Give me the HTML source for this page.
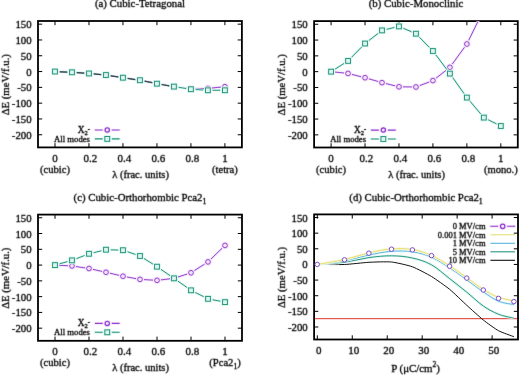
<!DOCTYPE html>
<html><head><meta charset="utf-8"><style>
html,body{margin:0;padding:0;background:#fff;}
svg{display:block;}
text{font-family:"Liberation Serif", "DejaVu Serif", serif;fill:#000;stroke:#000;stroke-width:0.3px;}
</style></head><body>
<svg width="520" height="375" viewBox="0 0 520 375">
<rect width="520" height="375" fill="#fff"/>
<defs>
<filter id="soft" color-interpolation-filters="sRGB" filterUnits="userSpaceOnUse" x="0" y="0" width="520" height="375"><feConvolveMatrix order="3" kernelMatrix="0 1 0 1 6 1 0 1 0" divisor="10" edgeMode="duplicate" preserveAlpha="false"/></filter>
<clipPath id="clipa"><rect x="38.0" y="21.0" width="203.90" height="126.40"/></clipPath>
<clipPath id="clipb"><rect x="314.1" y="21.1" width="203.70" height="126.40"/></clipPath>
<clipPath id="clipc"><rect x="38.0" y="214.6" width="204.00" height="126.20"/></clipPath>
<clipPath id="clipd"><rect x="314.1" y="214.4" width="203.90" height="125.10"/></clipPath>
</defs>
<rect x="38.00" y="21.00" width="203.90" height="126.40" fill="none" stroke="#000" stroke-width="1.8"/>
<path d="M54.99 147.40V143.20M54.99 21.00V25.20M88.98 147.40V143.20M88.98 21.00V25.20M122.96 147.40V143.20M122.96 21.00V25.20M156.94 147.40V143.20M156.94 21.00V25.20M190.93 147.40V143.20M190.93 21.00V25.20M224.91 147.40V143.20M224.91 21.00V25.20M38.00 24.16H42.20M241.90 24.16H237.70M38.00 39.96H42.20M241.90 39.96H237.70M38.00 55.76H42.20M241.90 55.76H237.70M38.00 71.56H42.20M241.90 71.56H237.70M38.00 87.36H42.20M241.90 87.36H237.70M38.00 103.16H42.20M241.90 103.16H237.70M38.00 118.96H42.20M241.90 118.96H237.70M38.00 134.76H42.20M241.90 134.76H237.70" stroke="#000" stroke-width="1" fill="none"/>
<rect x="314.10" y="21.10" width="203.70" height="126.40" fill="none" stroke="#000" stroke-width="1.8"/>
<path d="M331.08 147.50V143.30M331.08 21.10V25.30M365.03 147.50V143.30M365.03 21.10V25.30M398.98 147.50V143.30M398.98 21.10V25.30M432.93 147.50V143.30M432.93 21.10V25.30M466.88 147.50V143.30M466.88 21.10V25.30M500.82 147.50V143.30M500.82 21.10V25.30M314.10 24.26H318.30M517.80 24.26H513.60M314.10 40.06H318.30M517.80 40.06H513.60M314.10 55.86H318.30M517.80 55.86H513.60M314.10 71.66H318.30M517.80 71.66H513.60M314.10 87.46H318.30M517.80 87.46H513.60M314.10 103.26H318.30M517.80 103.26H513.60M314.10 119.06H318.30M517.80 119.06H513.60M314.10 134.86H318.30M517.80 134.86H513.60" stroke="#000" stroke-width="1" fill="none"/>
<rect x="38.00" y="214.60" width="204.00" height="126.20" fill="none" stroke="#000" stroke-width="1.8"/>
<path d="M55.00 340.80V336.60M55.00 214.60V218.80M89.00 340.80V336.60M89.00 214.60V218.80M123.00 340.80V336.60M123.00 214.60V218.80M157.00 340.80V336.60M157.00 214.60V218.80M191.00 340.80V336.60M191.00 214.60V218.80M225.00 340.80V336.60M225.00 214.60V218.80M38.00 217.75H42.20M242.00 217.75H237.80M38.00 233.53H42.20M242.00 233.53H237.80M38.00 249.31H42.20M242.00 249.31H237.80M38.00 265.08H42.20M242.00 265.08H237.80M38.00 280.86H42.20M242.00 280.86H237.80M38.00 296.63H42.20M242.00 296.63H237.80M38.00 312.41H42.20M242.00 312.41H237.80M38.00 328.18H42.20M242.00 328.18H237.80" stroke="#000" stroke-width="1" fill="none"/>
<rect x="314.10" y="214.40" width="203.90" height="125.10" fill="none" stroke="#000" stroke-width="1.8"/>
<path d="M317.30 339.50V335.30M317.30 214.40V218.60M352.26 339.50V335.30M352.26 214.40V218.60M387.22 339.50V335.30M387.22 214.40V218.60M422.18 339.50V335.30M422.18 214.40V218.60M457.14 339.50V335.30M457.14 214.40V218.60M492.10 339.50V335.30M492.10 214.40V218.60M314.10 217.53H318.30M518.00 217.53H513.80M314.10 233.16H318.30M518.00 233.16H513.80M314.10 248.80H318.30M518.00 248.80H513.80M314.10 264.44H318.30M518.00 264.44H513.80M314.10 280.08H318.30M518.00 280.08H513.80M314.10 295.72H318.30M518.00 295.72H513.80M314.10 311.35H318.30M518.00 311.35H513.80M314.10 326.99H318.30M518.00 326.99H513.80" stroke="#000" stroke-width="1" fill="none"/>
<path d="M58.99 71.73L67.99 72.12M75.97 72.56L84.98 73.18M92.96 73.83L101.98 74.67M109.92 75.66L119.01 77.10M126.92 78.30L135.99 79.64M143.87 81.02L153.02 82.89M160.88 84.37L169.99 85.93M177.90 87.12L186.96 88.30M194.92 88.72L203.92 88.50M211.90 88.00L220.93 87.07" stroke="#f1e2fa" stroke-width="2.6" fill="none" stroke-linecap="round" clip-path="url(#clipa)"/>
<path d="M58.99 71.73L67.99 72.12M75.97 72.56L84.98 73.18M92.96 73.83L101.98 74.67M109.92 75.66L119.01 77.10M126.92 78.30L135.99 79.64M143.87 81.02L153.02 82.89M160.88 84.37L169.99 85.93M177.90 87.12L186.96 88.30M194.92 88.72L203.92 88.50M211.90 88.00L220.93 87.07" stroke="#9848d0" stroke-width="1.0" fill="none" clip-path="url(#clipa)"/>
<g fill="#f1e2fa" stroke="none" clip-path="url(#clipa)"><circle cx="54.99" cy="71.56" r="3.75"/><circle cx="71.98" cy="72.29" r="3.75"/><circle cx="88.98" cy="73.46" r="3.75"/><circle cx="105.97" cy="75.04" r="3.75"/><circle cx="122.96" cy="77.72" r="3.75"/><circle cx="139.95" cy="80.22" r="3.75"/><circle cx="156.94" cy="83.69" r="3.75"/><circle cx="173.93" cy="86.60" r="3.75"/><circle cx="190.93" cy="88.81" r="3.75"/><circle cx="207.92" cy="88.40" r="3.75"/><circle cx="224.91" cy="86.66" r="3.75"/></g>
<g fill="none" stroke="#9848d0" stroke-width="1.0" clip-path="url(#clipa)"><circle cx="54.99" cy="71.56" r="2.35"/><circle cx="71.98" cy="72.29" r="2.35"/><circle cx="88.98" cy="73.46" r="2.35"/><circle cx="105.97" cy="75.04" r="2.35"/><circle cx="122.96" cy="77.72" r="2.35"/><circle cx="139.95" cy="80.22" r="2.35"/><circle cx="156.94" cy="83.69" r="2.35"/><circle cx="173.93" cy="86.60" r="2.35"/><circle cx="190.93" cy="88.81" r="2.35"/><circle cx="207.92" cy="88.40" r="2.35"/><circle cx="224.91" cy="86.66" r="2.35"/></g>
<path d="M59.79 71.77L67.19 72.08M76.77 72.62L84.19 73.13M93.75 73.90L101.19 74.59M110.71 75.79L118.22 76.97M127.71 78.42L135.20 79.52M144.65 81.18L152.24 82.73M161.67 84.50L169.20 85.79M178.68 87.33L186.18 88.49M195.72 89.52L203.13 89.97M212.72 90.27L220.11 90.27" stroke="#dcf5ee" stroke-width="2.6" fill="none" stroke-linecap="round" clip-path="url(#clipa)"/>
<path d="M59.79 71.77L67.19 72.08M76.77 72.62L84.19 73.13M93.75 73.90L101.19 74.59M110.71 75.79L118.22 76.97M127.71 78.42L135.20 79.52M144.65 81.18L152.24 82.73M161.67 84.50L169.20 85.79M178.68 87.33L186.18 88.49M195.72 89.52L203.13 89.97M212.72 90.27L220.11 90.27" stroke="#2a9680" stroke-width="1.0" fill="none" clip-path="url(#clipa)"/>
<path d="M59.79 71.77L67.19 72.08M76.77 72.62L84.19 73.13M93.75 73.90L101.19 74.59M110.71 75.79L118.22 76.97M127.71 78.42L135.20 79.52M144.65 81.18L152.24 82.73M161.67 84.50L169.20 85.79" stroke="#4a4258" stroke-width="1.25" fill="none"/>
<g fill="#dcf5ee" stroke="none" clip-path="url(#clipa)"><rect x="51.19" y="67.76" width="7.60" height="7.60" rx="1"/><rect x="68.18" y="68.49" width="7.60" height="7.60" rx="1"/><rect x="85.18" y="69.66" width="7.60" height="7.60" rx="1"/><rect x="102.17" y="71.24" width="7.60" height="7.60" rx="1"/><rect x="119.16" y="73.92" width="7.60" height="7.60" rx="1"/><rect x="136.15" y="76.42" width="7.60" height="7.60" rx="1"/><rect x="153.14" y="79.89" width="7.60" height="7.60" rx="1"/><rect x="170.13" y="82.80" width="7.60" height="7.60" rx="1"/><rect x="187.12" y="85.42" width="7.60" height="7.60" rx="1"/><rect x="204.12" y="86.47" width="7.60" height="7.60" rx="1"/><rect x="221.11" y="86.47" width="7.60" height="7.60" rx="1"/></g>
<g fill="none" stroke="#2a9680" stroke-width="1.0" clip-path="url(#clipa)"><rect x="52.59" y="69.16" width="4.80" height="4.80"/><rect x="69.58" y="69.89" width="4.80" height="4.80"/><rect x="86.58" y="71.06" width="4.80" height="4.80"/><rect x="103.57" y="72.64" width="4.80" height="4.80"/><rect x="120.56" y="75.32" width="4.80" height="4.80"/><rect x="137.55" y="77.82" width="4.80" height="4.80"/><rect x="154.54" y="81.29" width="4.80" height="4.80"/><rect x="171.53" y="84.20" width="4.80" height="4.80"/><rect x="188.53" y="86.82" width="4.80" height="4.80"/><rect x="205.52" y="87.87" width="4.80" height="4.80"/><rect x="222.51" y="87.87" width="4.80" height="4.80"/></g>
<path d="M95.00 130.00H102.65M111.85 130.00H119.50" stroke="#f1e2fa" stroke-width="2.7" stroke-linecap="round"/>
<path d="M95.00 130.00H102.65M111.85 130.00H119.50" stroke="#9848d0" stroke-width="1.1"/>
<g fill="#f1e2fa" stroke="none"><circle cx="107.25" cy="130.00" r="3.65"/></g>
<g fill="none" stroke="#9848d0" stroke-width="1.3"><circle cx="107.25" cy="130.00" r="2.1"/></g>
<path d="M95.00 138.90H102.65M111.85 138.90H119.50" stroke="#dcf5ee" stroke-width="2.7" stroke-linecap="round"/>
<path d="M95.00 138.90H102.65M111.85 138.90H119.50" stroke="#2a9680" stroke-width="1.1"/>
<g fill="#dcf5ee" stroke="none"><rect x="103.45" y="135.10" width="7.60" height="7.60" rx="1"/></g>
<g fill="none" stroke="#2a9680" stroke-width="1.0"><rect x="104.85" y="136.50" width="4.80" height="4.80"/></g>
<path d="M335.05 72.07L344.07 73.01M351.93 74.41L361.15 76.75M368.87 78.84L378.16 81.54M385.89 83.60L395.09 85.85M402.97 86.84L411.95 86.94M419.69 85.58L429.18 82.01M436.08 78.14L446.75 69.79M452.25 64.10L464.52 47.24M468.64 40.42L482.09 13.00M485.35 5.70L499.33 -28.91" stroke="#f1e2fa" stroke-width="2.6" fill="none" stroke-linecap="round" clip-path="url(#clipb)"/>
<path d="M335.05 72.07L344.07 73.01M351.93 74.41L361.15 76.75M368.87 78.84L378.16 81.54M385.89 83.60L395.09 85.85M402.97 86.84L411.95 86.94M419.69 85.58L429.18 82.01M436.08 78.14L446.75 69.79M452.25 64.10L464.52 47.24M468.64 40.42L482.09 13.00M485.35 5.70L499.33 -28.91" stroke="#9848d0" stroke-width="1.0" fill="none" clip-path="url(#clipb)"/>
<g fill="#f1e2fa" stroke="none" clip-path="url(#clipb)"><circle cx="331.08" cy="71.66" r="3.75"/><circle cx="348.05" cy="73.43" r="3.75"/><circle cx="365.03" cy="77.73" r="3.75"/><circle cx="382.00" cy="82.66" r="3.75"/><circle cx="398.98" cy="86.80" r="3.75"/><circle cx="415.95" cy="86.99" r="3.75"/><circle cx="432.93" cy="80.60" r="3.75"/><circle cx="449.90" cy="67.33" r="3.75"/><circle cx="466.88" cy="44.01" r="3.75"/><circle cx="483.85" cy="9.41" r="3.75"/><circle cx="500.82" cy="-32.62" r="3.75"/></g>
<g fill="none" stroke="#9848d0" stroke-width="1.0" clip-path="url(#clipb)"><circle cx="331.08" cy="71.66" r="2.35"/><circle cx="348.05" cy="73.43" r="2.35"/><circle cx="365.03" cy="77.73" r="2.35"/><circle cx="382.00" cy="82.66" r="2.35"/><circle cx="398.98" cy="86.80" r="2.35"/><circle cx="415.95" cy="86.99" r="2.35"/><circle cx="432.93" cy="80.60" r="2.35"/><circle cx="449.90" cy="67.33" r="2.35"/><circle cx="466.88" cy="44.01" r="2.35"/><circle cx="483.85" cy="9.41" r="2.35"/><circle cx="500.82" cy="-32.62" r="2.35"/></g>
<path d="M335.13 69.09L343.99 63.48M351.40 57.48L361.67 46.97M368.82 40.60L378.20 33.33M386.67 29.29L394.30 27.50M403.38 28.31L411.54 31.81M419.31 37.13L429.56 47.57M435.81 54.83L447.02 69.75M452.67 77.51L464.10 93.65M469.98 101.23L480.75 113.94M488.15 119.74L496.52 123.88" stroke="#dcf5ee" stroke-width="2.6" fill="none" stroke-linecap="round" clip-path="url(#clipb)"/>
<path d="M335.13 69.09L343.99 63.48M351.40 57.48L361.67 46.97M368.82 40.60L378.20 33.33M386.67 29.29L394.30 27.50M403.38 28.31L411.54 31.81M419.31 37.13L429.56 47.57M435.81 54.83L447.02 69.75M452.67 77.51L464.10 93.65M469.98 101.23L480.75 113.94M488.15 119.74L496.52 123.88" stroke="#2a9680" stroke-width="1.0" fill="none" clip-path="url(#clipb)"/>
<g fill="#dcf5ee" stroke="none" clip-path="url(#clipb)"><rect x="327.28" y="67.86" width="7.60" height="7.60" rx="1"/><rect x="344.25" y="57.12" width="7.60" height="7.60" rx="1"/><rect x="361.23" y="39.74" width="7.60" height="7.60" rx="1"/><rect x="378.20" y="26.59" width="7.60" height="7.60" rx="1"/><rect x="395.18" y="22.61" width="7.60" height="7.60" rx="1"/><rect x="412.15" y="29.91" width="7.60" height="7.60" rx="1"/><rect x="429.12" y="47.19" width="7.60" height="7.60" rx="1"/><rect x="446.10" y="69.79" width="7.60" height="7.60" rx="1"/><rect x="463.07" y="93.77" width="7.60" height="7.60" rx="1"/><rect x="480.05" y="113.81" width="7.60" height="7.60" rx="1"/><rect x="497.02" y="122.21" width="7.60" height="7.60" rx="1"/></g>
<g fill="none" stroke="#2a9680" stroke-width="1.0" clip-path="url(#clipb)"><rect x="328.68" y="69.26" width="4.80" height="4.80"/><rect x="345.65" y="58.52" width="4.80" height="4.80"/><rect x="362.63" y="41.14" width="4.80" height="4.80"/><rect x="379.60" y="27.99" width="4.80" height="4.80"/><rect x="396.58" y="24.01" width="4.80" height="4.80"/><rect x="413.55" y="31.31" width="4.80" height="4.80"/><rect x="430.53" y="48.59" width="4.80" height="4.80"/><rect x="447.50" y="71.19" width="4.80" height="4.80"/><rect x="464.48" y="95.17" width="4.80" height="4.80"/><rect x="481.45" y="115.21" width="4.80" height="4.80"/><rect x="498.43" y="123.61" width="4.80" height="4.80"/></g>
<path d="M371.10 130.10H378.75M387.95 130.10H395.60" stroke="#f1e2fa" stroke-width="2.7" stroke-linecap="round"/>
<path d="M371.10 130.10H378.75M387.95 130.10H395.60" stroke="#9848d0" stroke-width="1.1"/>
<g fill="#f1e2fa" stroke="none"><circle cx="383.35" cy="130.10" r="3.65"/></g>
<g fill="none" stroke="#9848d0" stroke-width="1.3"><circle cx="383.35" cy="130.10" r="2.1"/></g>
<path d="M371.10 139.00H378.75M387.95 139.00H395.60" stroke="#dcf5ee" stroke-width="2.7" stroke-linecap="round"/>
<path d="M371.10 139.00H378.75M387.95 139.00H395.60" stroke="#2a9680" stroke-width="1.1"/>
<g fill="#dcf5ee" stroke="none"><rect x="379.55" y="135.20" width="7.60" height="7.60" rx="1"/></g>
<g fill="none" stroke="#2a9680" stroke-width="1.0"><rect x="380.95" y="136.60" width="4.80" height="4.80"/></g>
<path d="M58.99 265.29L68.01 265.76M75.96 266.55L85.04 267.90M92.90 269.36L102.10 271.40M109.89 273.18L119.11 275.34M126.93 276.97L136.07 278.65M143.99 279.60L153.01 280.12M160.97 279.88L170.03 278.80M177.80 277.09L187.20 274.02M194.37 270.62L204.63 264.05M210.87 259.11L222.13 248.21" stroke="#f1e2fa" stroke-width="2.6" fill="none" stroke-linecap="round" clip-path="url(#clipc)"/>
<path d="M58.99 265.29L68.01 265.76M75.96 266.55L85.04 267.90M92.90 269.36L102.10 271.40M109.89 273.18L119.11 275.34M126.93 276.97L136.07 278.65M143.99 279.60L153.01 280.12M160.97 279.88L170.03 278.80M177.80 277.09L187.20 274.02M194.37 270.62L204.63 264.05M210.87 259.11L222.13 248.21" stroke="#9848d0" stroke-width="1.0" fill="none" clip-path="url(#clipc)"/>
<g fill="#f1e2fa" stroke="none" clip-path="url(#clipc)"><circle cx="55.00" cy="265.08" r="3.75"/><circle cx="72.00" cy="265.96" r="3.75"/><circle cx="89.00" cy="268.49" r="3.75"/><circle cx="106.00" cy="272.27" r="3.75"/><circle cx="123.00" cy="276.25" r="3.75"/><circle cx="140.00" cy="279.37" r="3.75"/><circle cx="157.00" cy="280.35" r="3.75"/><circle cx="174.00" cy="278.33" r="3.75"/><circle cx="191.00" cy="272.78" r="3.75"/><circle cx="208.00" cy="261.89" r="3.75"/><circle cx="225.00" cy="245.42" r="3.75"/></g>
<g fill="none" stroke="#9848d0" stroke-width="1.0" clip-path="url(#clipc)"><circle cx="55.00" cy="265.08" r="2.35"/><circle cx="72.00" cy="265.96" r="2.35"/><circle cx="89.00" cy="268.49" r="2.35"/><circle cx="106.00" cy="272.27" r="2.35"/><circle cx="123.00" cy="276.25" r="2.35"/><circle cx="140.00" cy="279.37" r="2.35"/><circle cx="157.00" cy="280.35" r="2.35"/><circle cx="174.00" cy="278.33" r="2.35"/><circle cx="191.00" cy="272.78" r="2.35"/><circle cx="208.00" cy="261.89" r="2.35"/><circle cx="225.00" cy="245.42" r="2.35"/></g>
<path d="M59.63 263.80L67.37 261.66M76.48 258.64L84.52 255.52M93.67 252.67L101.33 250.83M110.80 249.85L118.20 250.05M127.54 251.74L135.46 254.44M144.06 258.55L152.94 264.13M160.96 269.40L170.04 275.62M177.92 281.10L187.08 287.55M195.29 292.47L203.71 296.69M212.71 299.75L220.29 301.21" stroke="#dcf5ee" stroke-width="2.6" fill="none" stroke-linecap="round" clip-path="url(#clipc)"/>
<path d="M59.63 263.80L67.37 261.66M76.48 258.64L84.52 255.52M93.67 252.67L101.33 250.83M110.80 249.85L118.20 250.05M127.54 251.74L135.46 254.44M144.06 258.55L152.94 264.13M160.96 269.40L170.04 275.62M177.92 281.10L187.08 287.55M195.29 292.47L203.71 296.69M212.71 299.75L220.29 301.21" stroke="#2a9680" stroke-width="1.0" fill="none" clip-path="url(#clipc)"/>
<g fill="#dcf5ee" stroke="none" clip-path="url(#clipc)"><rect x="51.20" y="261.28" width="7.60" height="7.60" rx="1"/><rect x="68.20" y="256.58" width="7.60" height="7.60" rx="1"/><rect x="85.20" y="249.99" width="7.60" height="7.60" rx="1"/><rect x="102.20" y="245.92" width="7.60" height="7.60" rx="1"/><rect x="119.20" y="246.39" width="7.60" height="7.60" rx="1"/><rect x="136.20" y="252.19" width="7.60" height="7.60" rx="1"/><rect x="153.20" y="262.89" width="7.60" height="7.60" rx="1"/><rect x="170.20" y="274.53" width="7.60" height="7.60" rx="1"/><rect x="187.20" y="286.52" width="7.60" height="7.60" rx="1"/><rect x="204.20" y="295.04" width="7.60" height="7.60" rx="1"/><rect x="221.20" y="298.32" width="7.60" height="7.60" rx="1"/></g>
<g fill="none" stroke="#2a9680" stroke-width="1.0" clip-path="url(#clipc)"><rect x="52.60" y="262.68" width="4.80" height="4.80"/><rect x="69.60" y="257.98" width="4.80" height="4.80"/><rect x="86.60" y="251.39" width="4.80" height="4.80"/><rect x="103.60" y="247.32" width="4.80" height="4.80"/><rect x="120.60" y="247.79" width="4.80" height="4.80"/><rect x="137.60" y="253.59" width="4.80" height="4.80"/><rect x="154.60" y="264.29" width="4.80" height="4.80"/><rect x="171.60" y="275.93" width="4.80" height="4.80"/><rect x="188.60" y="287.92" width="4.80" height="4.80"/><rect x="205.60" y="296.44" width="4.80" height="4.80"/><rect x="222.60" y="299.72" width="4.80" height="4.80"/></g>
<path d="M95.00 323.40H102.65M111.85 323.40H119.50" stroke="#f1e2fa" stroke-width="2.7" stroke-linecap="round"/>
<path d="M95.00 323.40H102.65M111.85 323.40H119.50" stroke="#9848d0" stroke-width="1.1"/>
<g fill="#f1e2fa" stroke="none"><circle cx="107.25" cy="323.40" r="3.65"/></g>
<g fill="none" stroke="#9848d0" stroke-width="1.3"><circle cx="107.25" cy="323.40" r="2.1"/></g>
<path d="M95.00 332.30H102.65M111.85 332.30H119.50" stroke="#dcf5ee" stroke-width="2.7" stroke-linecap="round"/>
<path d="M95.00 332.30H102.65M111.85 332.30H119.50" stroke="#2a9680" stroke-width="1.1"/>
<g fill="#dcf5ee" stroke="none"><rect x="103.45" y="328.50" width="7.60" height="7.60" rx="1"/></g>
<g fill="none" stroke="#2a9680" stroke-width="1.0"><rect x="104.85" y="329.90" width="4.80" height="4.80"/></g>
<path d="M315.10 318.7H517.00" stroke="#e0302a" stroke-width="1"/>
<path d="M317.20 264.40C319.93 264.41 339.33 264.71 344.50 264.50C349.67 264.29 364.20 262.55 368.90 262.30C373.60 262.05 387.15 261.55 391.50 262.00C395.85 262.45 408.40 265.35 412.40 266.80C416.40 268.25 427.78 274.25 431.50 276.50C435.22 278.75 446.07 286.42 449.60 289.30C453.13 292.18 463.43 302.23 466.80 305.30C470.17 308.37 480.13 317.46 483.30 320.00C486.47 322.54 495.44 329.03 498.50 330.70C501.56 332.37 512.36 336.10 513.90 336.70" stroke="#111" stroke-width="1.0" fill="none" stroke-linejoin="round" clip-path="url(#clipd)"/>
<path d="M317.20 264.40C321.75 264.03 335.88 263.33 344.50 262.20C353.12 261.07 361.07 258.67 368.90 257.60C376.73 256.53 384.25 255.73 391.50 255.80C398.75 255.87 405.73 256.50 412.40 258.00C419.07 259.50 425.30 261.37 431.50 264.80C437.70 268.23 443.72 274.03 449.60 278.60C455.48 283.17 461.18 287.63 466.80 292.20C472.42 296.77 478.02 302.33 483.30 306.00C488.58 309.67 493.40 312.17 498.50 314.20C503.60 316.23 511.33 317.53 513.90 318.20" stroke="#dcf5ee" stroke-width="2.6" fill="none" stroke-linejoin="round" clip-path="url(#clipd)"/>
<path d="M317.20 264.40C321.75 264.03 335.88 263.33 344.50 262.20C353.12 261.07 361.07 258.67 368.90 257.60C376.73 256.53 384.25 255.73 391.50 255.80C398.75 255.87 405.73 256.50 412.40 258.00C419.07 259.50 425.30 261.37 431.50 264.80C437.70 268.23 443.72 274.03 449.60 278.60C455.48 283.17 461.18 287.63 466.80 292.20C472.42 296.77 478.02 302.33 483.30 306.00C488.58 309.67 493.40 312.17 498.50 314.20C503.60 316.23 511.33 317.53 513.90 318.20" stroke="#2a9680" stroke-width="1.0" fill="none" stroke-linejoin="round" clip-path="url(#clipd)"/>
<path d="M317.20 264.40C321.75 263.80 335.88 262.37 344.50 260.80C353.12 259.23 361.07 256.58 368.90 255.00C376.73 253.42 384.25 251.83 391.50 251.30C398.75 250.77 405.73 250.82 412.40 251.80C419.07 252.78 425.30 254.53 431.50 257.20C437.70 259.87 443.72 264.02 449.60 267.80C455.48 271.58 461.18 275.90 466.80 279.90C472.42 283.90 478.02 288.25 483.30 291.80C488.58 295.35 493.40 299.07 498.50 301.20C503.60 303.33 511.33 304.03 513.90 304.60" stroke="#e4f6fb" stroke-width="2.6" fill="none" stroke-linejoin="round" clip-path="url(#clipd)"/>
<path d="M317.20 264.40C321.75 263.80 335.88 262.37 344.50 260.80C353.12 259.23 361.07 256.58 368.90 255.00C376.73 253.42 384.25 251.83 391.50 251.30C398.75 250.77 405.73 250.82 412.40 251.80C419.07 252.78 425.30 254.53 431.50 257.20C437.70 259.87 443.72 264.02 449.60 267.80C455.48 271.58 461.18 275.90 466.80 279.90C472.42 283.90 478.02 288.25 483.30 291.80C488.58 295.35 493.40 299.07 498.50 301.20C503.60 303.33 511.33 304.03 513.90 304.60" stroke="#5ab4e0" stroke-width="1.0" fill="none" stroke-linejoin="round" clip-path="url(#clipd)"/>
<path d="M317.20 264.40C321.75 263.60 335.88 261.52 344.50 259.60C353.12 257.68 361.07 254.68 368.90 252.90C376.73 251.12 384.25 249.45 391.50 248.90C398.75 248.35 405.73 248.53 412.40 249.60C419.07 250.67 425.30 252.58 431.50 255.30C437.70 258.02 443.72 262.15 449.60 265.90C455.48 269.65 461.18 273.87 466.80 277.80C472.42 281.73 478.02 286.25 483.30 289.50C488.58 292.75 493.40 295.40 498.50 297.30C503.60 299.20 511.33 300.30 513.90 300.90" stroke="#f8f6dc" stroke-width="2.6" fill="none" stroke-linejoin="round" clip-path="url(#clipd)"/>
<path d="M317.20 264.40C321.75 263.60 335.88 261.52 344.50 259.60C353.12 257.68 361.07 254.68 368.90 252.90C376.73 251.12 384.25 249.45 391.50 248.90C398.75 248.35 405.73 248.53 412.40 249.60C419.07 250.67 425.30 252.58 431.50 255.30C437.70 258.02 443.72 262.15 449.60 265.90C455.48 269.65 461.18 273.87 466.80 277.80C472.42 281.73 478.02 286.25 483.30 289.50C488.58 292.75 493.40 295.40 498.50 297.30C503.60 299.20 511.33 300.30 513.90 300.90" stroke="#e6df70" stroke-width="1.0" fill="none" stroke-linejoin="round" clip-path="url(#clipd)"/>
<g fill="#fff" stroke="#7d4ccc" stroke-width="1.0" clip-path="url(#clipd)"><circle cx="317.20" cy="264.40" r="2.25"/><circle cx="344.50" cy="259.80" r="2.25"/><circle cx="368.90" cy="253.20" r="2.25"/><circle cx="391.50" cy="249.20" r="2.25"/><circle cx="412.40" cy="249.90" r="2.25"/><circle cx="431.50" cy="255.60" r="2.25"/><circle cx="449.60" cy="266.20" r="2.25"/><circle cx="466.80" cy="278.10" r="2.25"/><circle cx="483.30" cy="290.00" r="2.25"/><circle cx="498.50" cy="298.40" r="2.25"/><circle cx="513.90" cy="301.60" r="2.25"/></g>
<path d="M490.40 226.30H498.10M507.30 226.30H515.00" stroke="#f1e2fa" stroke-width="2.7" stroke-linecap="round"/>
<path d="M490.40 226.30H498.10M507.30 226.30H515.00" stroke="#9848d0" stroke-width="1.1"/>
<g fill="#f1e2fa" stroke="none"><circle cx="502.70" cy="226.30" r="3.75"/></g>
<g fill="none" stroke="#9848d0" stroke-width="1.3"><circle cx="502.70" cy="226.30" r="2.2"/></g>
<path d="M490.4 234.8H515.0" stroke="#e6df70" stroke-width="1.1"/>
<path d="M490.4 243.3H515.0" stroke="#5ab4e0" stroke-width="1.1"/>
<path d="M490.4 251.8H515.0" stroke="#2a9680" stroke-width="1.1"/>
<path d="M490.4 260.3H515.0" stroke="#111" stroke-width="1.1"/>
<g filter="url(#soft)">
<text x="31.60" y="28.16" font-size="10.8" text-anchor="end" >150</text>
<text x="31.60" y="43.96" font-size="10.8" text-anchor="end" >100</text>
<text x="31.60" y="59.76" font-size="10.8" text-anchor="end" >50</text>
<text x="31.60" y="75.56" font-size="10.8" text-anchor="end" >0</text>
<text x="31.60" y="91.36" font-size="10.8" text-anchor="end" >-50</text>
<text x="31.60" y="107.16" font-size="10.8" text-anchor="end" >-100</text>
<text x="31.60" y="122.96" font-size="10.8" text-anchor="end" >-150</text>
<text x="31.60" y="138.76" font-size="10.8" text-anchor="end" >-200</text>
<text x="54.99" y="161.70" font-size="11" text-anchor="middle" >0</text>
<text x="90.38" y="161.70" font-size="11" text-anchor="middle" >0.2</text>
<text x="124.36" y="161.70" font-size="11" text-anchor="middle" >0.4</text>
<text x="158.34" y="161.70" font-size="11" text-anchor="middle" >0.6</text>
<text x="192.33" y="161.70" font-size="11" text-anchor="middle" >0.8</text>
<text x="224.91" y="161.70" font-size="11" text-anchor="middle" >1</text>
<text x="54.99" y="172.70" font-size="10.6" text-anchor="middle" >(cubic)</text>
<text x="224.91" y="172.70" font-size="10.6" text-anchor="middle" >(tetra)</text>
<text x="140.55" y="177.90" font-size="10.5" text-anchor="middle" >λ (frac. units)</text>
<text x="139.95" y="7.20" font-size="10.8" text-anchor="middle" >(a) Cubic-Tetragonal</text>
<text x="0.00" y="0.00" font-size="10.7" text-anchor="middle" transform="translate(8.70 84.70) rotate(-90)">ΔE (meV/f.u.)</text>
<text x="307.70" y="28.26" font-size="10.8" text-anchor="end" >150</text>
<text x="307.70" y="44.06" font-size="10.8" text-anchor="end" >100</text>
<text x="307.70" y="59.86" font-size="10.8" text-anchor="end" >50</text>
<text x="307.70" y="75.66" font-size="10.8" text-anchor="end" >0</text>
<text x="307.70" y="91.46" font-size="10.8" text-anchor="end" >-50</text>
<text x="307.70" y="107.26" font-size="10.8" text-anchor="end" >-100</text>
<text x="307.70" y="123.06" font-size="10.8" text-anchor="end" >-150</text>
<text x="307.70" y="138.86" font-size="10.8" text-anchor="end" >-200</text>
<text x="331.08" y="161.80" font-size="11" text-anchor="middle" >0</text>
<text x="366.43" y="161.80" font-size="11" text-anchor="middle" >0.2</text>
<text x="400.38" y="161.80" font-size="11" text-anchor="middle" >0.4</text>
<text x="434.32" y="161.80" font-size="11" text-anchor="middle" >0.6</text>
<text x="468.27" y="161.80" font-size="11" text-anchor="middle" >0.8</text>
<text x="500.82" y="161.80" font-size="11" text-anchor="middle" >1</text>
<text x="331.08" y="172.80" font-size="10.6" text-anchor="middle" >(cubic)</text>
<text x="500.82" y="172.80" font-size="10.6" text-anchor="middle" >(mono.)</text>
<text x="416.55" y="178.00" font-size="10.5" text-anchor="middle" >λ (frac. units)</text>
<text x="415.95" y="7.30" font-size="10.8" text-anchor="middle" >(b) Cubic-Monoclinic</text>
<text x="0.00" y="0.00" font-size="10.7" text-anchor="middle" transform="translate(284.80 84.80) rotate(-90)">ΔE (meV/f.u.)</text>
<text x="31.60" y="221.75" font-size="10.8" text-anchor="end" >150</text>
<text x="31.60" y="237.53" font-size="10.8" text-anchor="end" >100</text>
<text x="31.60" y="253.31" font-size="10.8" text-anchor="end" >50</text>
<text x="31.60" y="269.08" font-size="10.8" text-anchor="end" >0</text>
<text x="31.60" y="284.86" font-size="10.8" text-anchor="end" >-50</text>
<text x="31.60" y="300.63" font-size="10.8" text-anchor="end" >-100</text>
<text x="31.60" y="316.41" font-size="10.8" text-anchor="end" >-150</text>
<text x="31.60" y="332.18" font-size="10.8" text-anchor="end" >-200</text>
<text x="55.00" y="355.10" font-size="11" text-anchor="middle" >0</text>
<text x="90.40" y="355.10" font-size="11" text-anchor="middle" >0.2</text>
<text x="124.40" y="355.10" font-size="11" text-anchor="middle" >0.4</text>
<text x="158.40" y="355.10" font-size="11" text-anchor="middle" >0.6</text>
<text x="192.40" y="355.10" font-size="11" text-anchor="middle" >0.8</text>
<text x="225.00" y="355.10" font-size="11" text-anchor="middle" >1</text>
<text x="55.00" y="366.10" font-size="10.6" text-anchor="middle" >(cubic)</text>
<text x="225.00" y="366.10" font-size="10.6" text-anchor="middle" >(Pca2<tspan font-size="7.5" dy="2.5">1</tspan><tspan dy="-2.5">)</tspan></text>
<text x="140.60" y="371.30" font-size="10.5" text-anchor="middle" >λ (frac. units)</text>
<text x="140.00" y="200.80" font-size="10.8" text-anchor="middle" >(c) Cubic-Orthorhombic Pca2<tspan font-size="7.8" dy="3.6">1</tspan></text>
<text x="0.00" y="0.00" font-size="10.7" text-anchor="middle" transform="translate(8.70 278.20) rotate(-90)">ΔE (meV/f.u.)</text>
<text x="307.70" y="221.53" font-size="10.8" text-anchor="end" >150</text>
<text x="307.70" y="237.16" font-size="10.8" text-anchor="end" >100</text>
<text x="307.70" y="252.80" font-size="10.8" text-anchor="end" >50</text>
<text x="307.70" y="268.44" font-size="10.8" text-anchor="end" >0</text>
<text x="307.70" y="284.08" font-size="10.8" text-anchor="end" >-50</text>
<text x="307.70" y="299.72" font-size="10.8" text-anchor="end" >-100</text>
<text x="307.70" y="315.35" font-size="10.8" text-anchor="end" >-150</text>
<text x="307.70" y="330.99" font-size="10.8" text-anchor="end" >-200</text>
<text x="318.70" y="353.80" font-size="11" text-anchor="middle" >0</text>
<text x="353.86" y="353.80" font-size="11" text-anchor="middle" >10</text>
<text x="388.82" y="353.80" font-size="11" text-anchor="middle" >20</text>
<text x="423.78" y="353.80" font-size="11" text-anchor="middle" >30</text>
<text x="458.74" y="353.80" font-size="11" text-anchor="middle" >40</text>
<text x="493.70" y="353.80" font-size="11" text-anchor="middle" >50</text>
<text x="415.55" y="371.50" font-size="10.9" text-anchor="middle" >P (μC/cm<tspan font-size="7.5" dy="-4.8">2</tspan><tspan dy="4.8">)</tspan></text>
<text x="416.05" y="200.60" font-size="10.8" text-anchor="middle" >(d) Cubic-Orthorhombic Pca2<tspan font-size="7.8" dy="3.6">1</tspan></text>
<text x="0.00" y="0.00" font-size="10.7" text-anchor="middle" transform="translate(284.80 277.45) rotate(-90)">ΔE (meV/f.u.)</text>
<text x="90.00" y="132.80" font-size="9.4" text-anchor="end" >X<tspan font-size="6.5" dy="2">2</tspan><tspan font-size="6.5" dy="-4">-</tspan></text>
<text x="90.00" y="142.00" font-size="8.7" text-anchor="end" >All modes</text>
<text x="366.10" y="132.90" font-size="9.4" text-anchor="end" >X<tspan font-size="6.5" dy="2">2</tspan><tspan font-size="6.5" dy="-4">-</tspan></text>
<text x="366.10" y="142.10" font-size="8.7" text-anchor="end" >All modes</text>
<text x="90.00" y="326.20" font-size="9.4" text-anchor="end" >X<tspan font-size="6.5" dy="2">2</tspan><tspan font-size="6.5" dy="-4">-</tspan></text>
<text x="90.00" y="335.40" font-size="8.7" text-anchor="end" >All modes</text>
<text x="485.50" y="229.30" font-size="8.5" text-anchor="end" >0 MV/cm</text>
<text x="485.50" y="237.80" font-size="8.5" text-anchor="end" >0.001 MV/cm</text>
<text x="485.50" y="246.30" font-size="8.5" text-anchor="end" >1 MV/cm</text>
<text x="485.50" y="254.80" font-size="8.5" text-anchor="end" >5 MV/cm</text>
<text x="485.50" y="263.30" font-size="8.5" text-anchor="end" >10 MV/cm</text>
</g>
</svg></body></html>
